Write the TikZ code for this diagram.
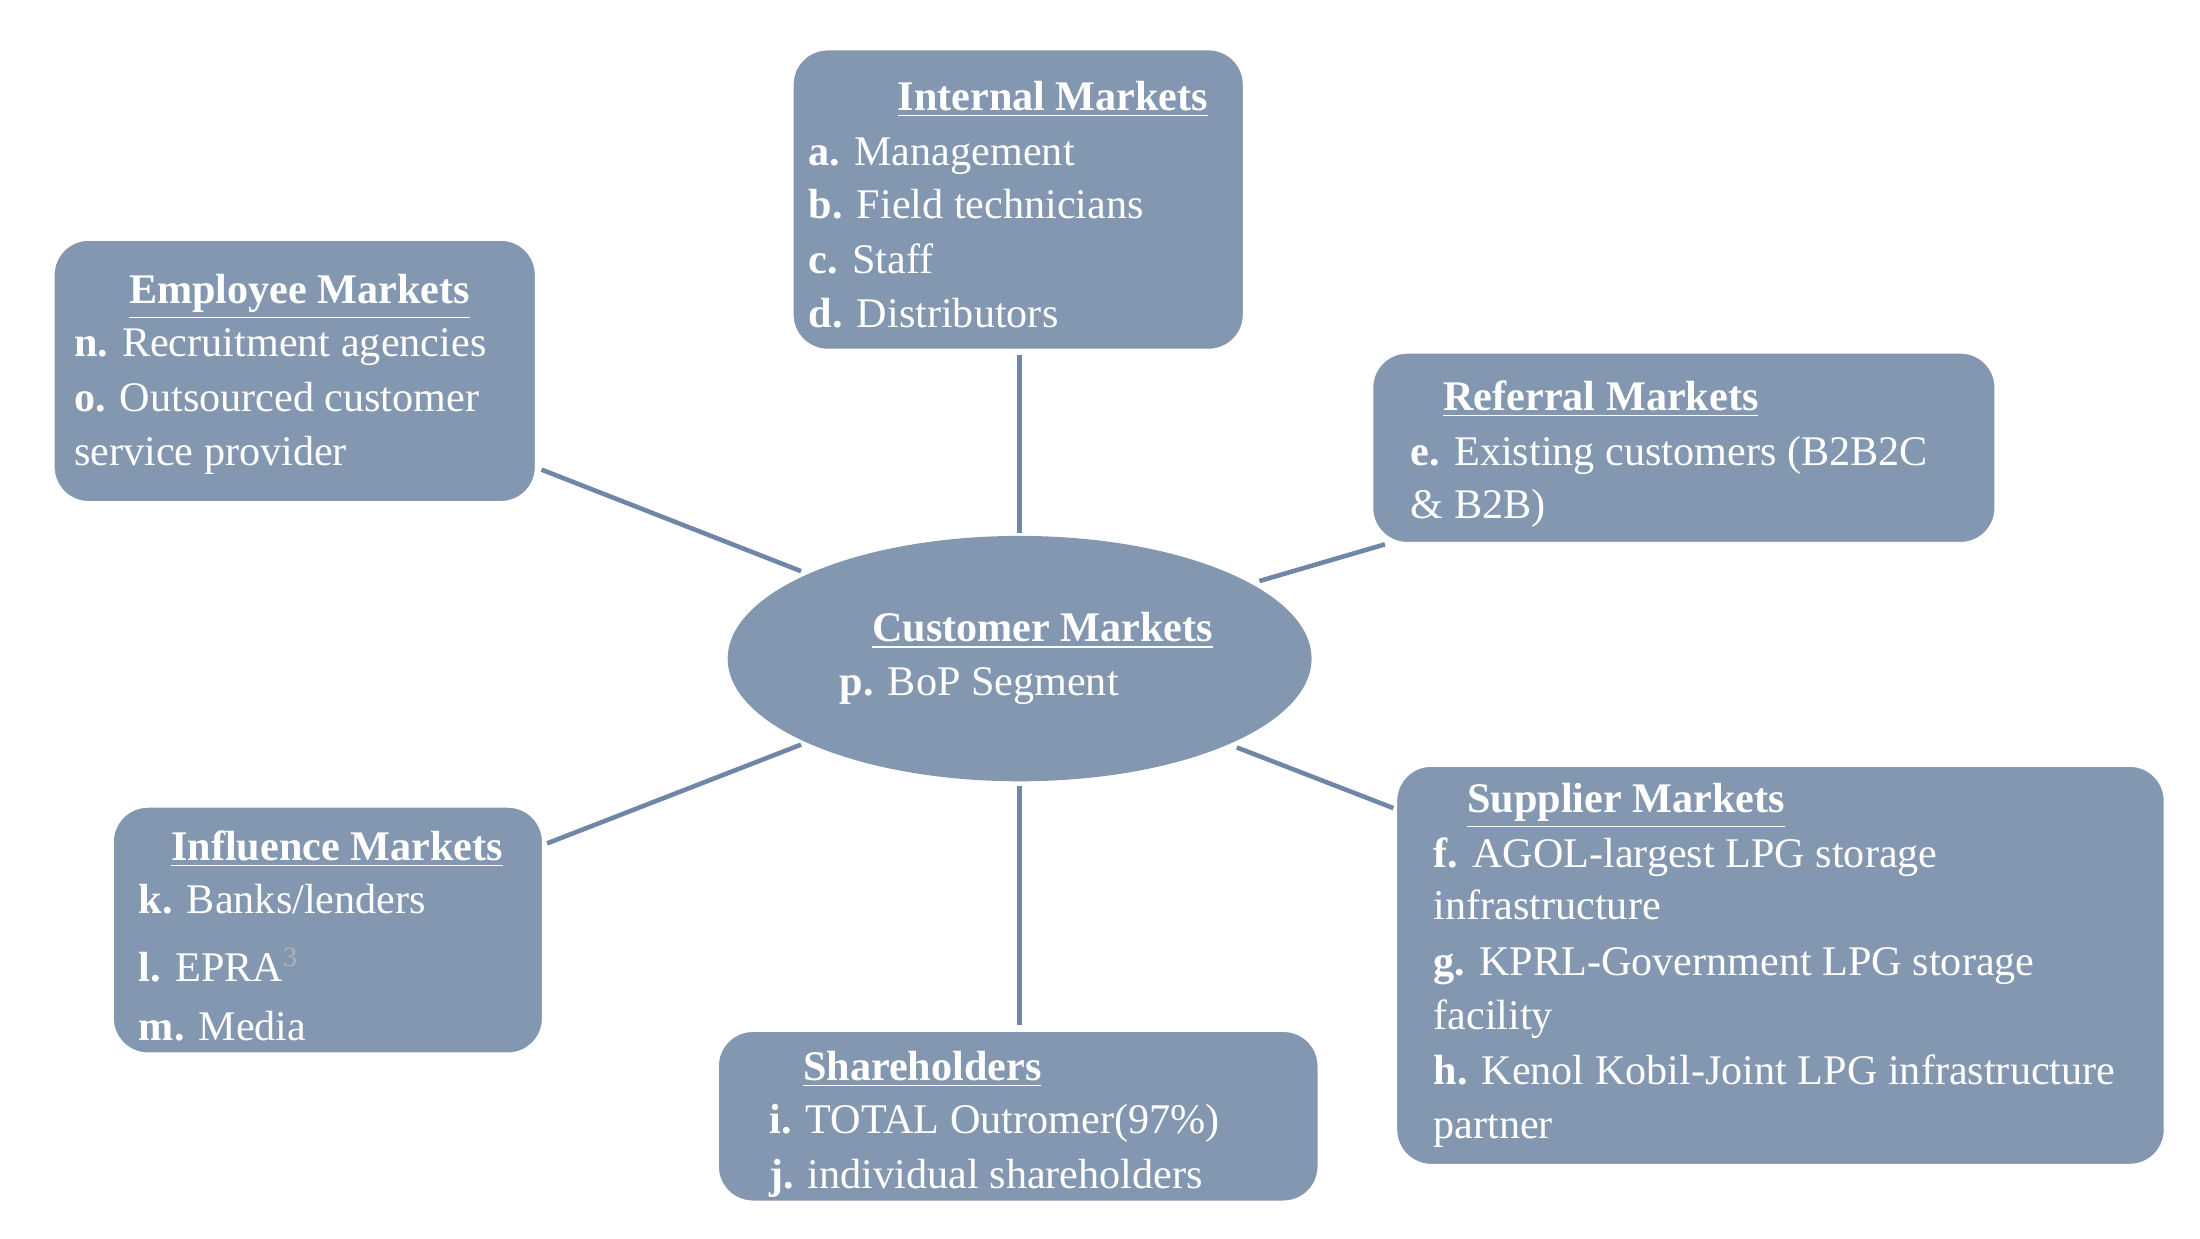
\documentclass[tikz,border=0pt]{standalone}
\usepackage{fontspec}
\setmainfont{Liberation Serif}
\definecolor{boxc}{HTML}{8497B0}
\definecolor{linec}{HTML}{6F86A6}
\begin{document}
\begin{tikzpicture}[x=0.0141cm,y=-0.0141cm,
  bx/.style={fill=boxc,draw=white,line width=0.6pt,rounded corners=0.35cm},
  tx/.style={anchor=base west,text=white,inner sep=0pt,font=\fontsize{12pt}{14pt}\selectfont},
  ln/.style={draw=linec,line width=1.3pt}]
\useasboundingbox (0,0) rectangle (1560,878);
\newcommand{\ttl}[1]{\underline{\textbf{#1}}}
% boxes
\draw[bx] (562,35) rectangle (882,248);
\draw[bx] (38,170) rectangle (380,356);
\draw[bx] (973,250) rectangle (1415,385);
\draw[bx] (80,572) rectangle (385,747);
\draw[bx] (509,731) rectangle (935,852);
\draw[bx] (990,543) rectangle (1535,826);
\fill[boxc] (723,467) ellipse [x radius=207, y radius=87];
% connector end points
\coordinate (iA) at (723,252); \coordinate (iB) at (723,378);
\coordinate (eA) at (384,333); \coordinate (eB) at (568,405);
\coordinate (rA) at (982,386); \coordinate (rB) at (893,412);
\coordinate (fA) at (388,598); \coordinate (fB) at (568,528);
\coordinate (sA) at (723,727); \coordinate (sB) at (723,557);
\coordinate (pA) at (988,573); \coordinate (pB) at (877,530);
\foreach \a/\b in {iA/iB,eA/eB,rA/rB,fA/fB,sA/sB,pA/pB} \draw[ln] (\a) -- (\b);
% texts
\node[tx] (t1) at (636,78) {\ttl{Internal Markets}};
\node[tx] (t2) at (573,117) {\textbf{a.} Management};
\node[tx] (t3) at (573,155) {\textbf{b.} Field technicians};
\node[tx] (t4) at (573,194) {\textbf{c.} Staff};
\node[tx] (t5) at (573,232) {\textbf{d.} Distributors};
\node[tx] (t6) at (91,215) {\ttl{Employee Markets}};
\node[tx] (t7) at (52,253) {\textbf{n.} Recruitment agencies};
\node[tx] (t8) at (52,292) {\textbf{o.} Outsourced customer};
\node[tx] (t9) at (52,330) {service provider};
\node[tx] (t10) at (1023,291) {\ttl{Referral Markets}};
\node[tx] (t11) at (1000,330) {\textbf{e.} Existing customers (B2B2C};
\node[tx] (t12) at (1000,368) {\& B2B)};
\node[tx] (t13) at (618,455) {\ttl{Customer Markets}};
\node[tx] (t14) at (595,493) {\textbf{p.} BoP Segment};
\node[tx] (t15) at (121,610) {\ttl{Influence Markets}};
\node[tx] (t16) at (98,648) {\textbf{k.} Banks/lenders};
\node[tx] (t17) at (98,696) {\textbf{l.} EPRA\textsuperscript{\textcolor{gray!60}{3}}};
\node[tx] (t18) at (98,738) {\textbf{m.} Media};
\node[tx] (t19) at (569,766) {\ttl{Shareholders}};
\node[tx] (t20) at (545,804) {\textbf{i.} TOTAL Outromer(97\%)};
\node[tx] (t21) at (545,843) {\textbf{j.} individual shareholders};
\node[tx] (t22) at (1040,576) {\ttl{Supplier Markets}};
\node[tx] (t23) at (1016,615) {\textbf{f.} AGOL-largest LPG storage};
\node[tx] (t24) at (1016,652) {infrastructure};
\node[tx] (t25) at (1016,692) {\textbf{g.} KPRL-Government LPG storage};
\node[tx] (t26) at (1016,730) {facility};
\node[tx] (t27) at (1016,769) {\textbf{h.} Kenol Kobil-Joint LPG infrastructure};
\node[tx] (t28) at (1016,807) {partner};
\end{tikzpicture}
\end{document}
